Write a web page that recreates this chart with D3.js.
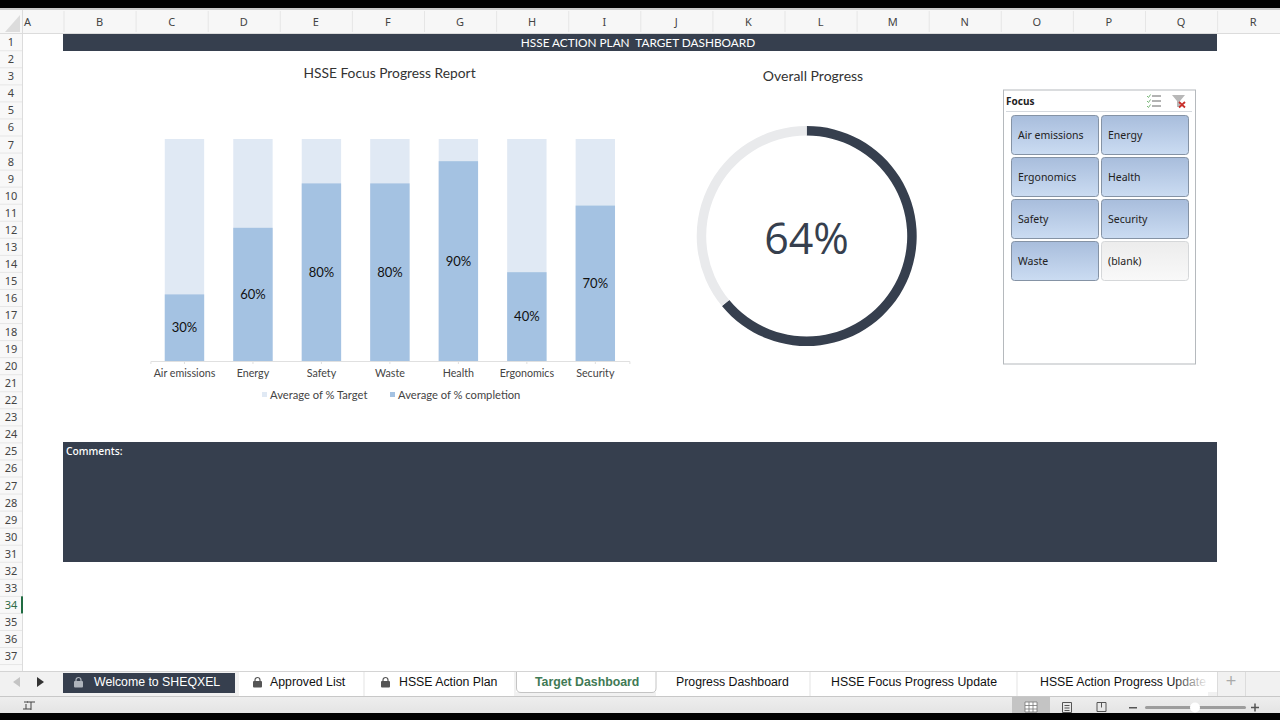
<!DOCTYPE html>
<html><head><meta charset="utf-8">
<script src="https://cdn.jsdelivr.net/npm/d3@7/dist/d3.min.js"></script>
<style>html,body{margin:0;padding:0;background:#000;overflow:hidden}svg{display:block}text{font-family:Lato,sans-serif}</style>
</head><body><svg id="c" width="1280" height="720"></svg>
<script>
const categories=["Air emissions","Energy","Safety","Waste","Health","Ergonomics","Security"];
const completion=[30,60,80,80,90,40,70];
const target=[100,100,100,100,100,100,100];
const seriesNames=["Average of % Target","Average of % completion"];
const overall=[64,36];
const slicerItems=["Air emissions","Energy","Ergonomics","Health","Safety","Security","Waste","(blank)"];
const columns="BCDEFGHIJKLMNOPQR".split("");
const rows=d3.range(1,38);
const tabs=["Welcome to SHEQXEL","Approved List","HSSE Action Plan","Target Dashboard","Progress Dashboard","HSSE Focus Progress Update","HSSE Action Progress Update"];
const tabEdges=[63,239,365,516,656,811,1018,1218];
const tabLocked=[1,1,1,0,0,0,0];

const DARK="#363f4e",PALE="#e0e9f4",BLUE="#a4c2e2",INK="#333";
const svg=d3.select("#c");
const defs=svg.append("defs");
function grad(id,a,b){const g=defs.append("linearGradient").attr("id",id).attr("x1",0).attr("x2",0).attr("y1",0).attr("y2",1);
 g.append("stop").attr("offset",0).attr("stop-color",a);g.append("stop").attr("offset",1).attr("stop-color",b);}
grad("sel","#a8bddc","#cbdcf2");grad("off","#ececec","#f9f9f9");grad("head","#eeeeee","#e4e4e4");
const clip=defs.append("clipPath").attr("id","tabclip");clip.append("rect").attr("x",0).attr("y",0).attr("width",1208).attr("height",720);
const fg=defs.append("linearGradient").attr("id","fade");fg.append("stop").attr("offset",0).attr("stop-color","#fff").attr("stop-opacity",0);fg.append("stop").attr("offset",.8).attr("stop-color","#fff");

// Window frame
svg.append("rect").attr("width",1280).attr("height",720).attr("fill","#000");
svg.append("rect").attr("y",8).attr("width",1280).attr("height",705).attr("fill","#fff");
svg.append("rect").attr("y",8).attr("width",1280).attr("height",2).attr("fill","#c9c9c9");

// Column header
svg.append("rect").attr("y",10).attr("width",1280).attr("height",23).attr("fill","#f7f7f7");
svg.append("rect").attr("y",33).attr("width",1280).attr("height",1).attr("fill","#dcdcdc");
svg.append("path").attr("d","M5 32L20 15V32Z").attr("fill","#dcdcdc");
const colX=d3.scaleBand().domain(columns).range([63.5,63.5+17*72.1]);
svg.append("text").attr("x",24).attr("y",26).attr("font-size",11).attr("fill","#444").style("font-family","'Noto Sans'").text("A");
svg.append("g").selectAll("text").data(columns).join("text").attr("x",d=>colX(d)+colX.bandwidth()/2).attr("y",26)
 .attr("text-anchor","middle").attr("font-size",11).attr("fill","#444").style("font-family","'Noto Sans'").text(d=>d);
svg.append("g").selectAll("rect").data(columns).join("rect").attr("x",d=>colX(d)).attr("y",11).attr("width",1).attr("height",21).attr("fill","#e6e6e6");

// Row header
svg.append("rect").attr("y",34).attr("width",22).attr("height",637).attr("fill","#f8f8f8");
svg.append("rect").attr("x",22).attr("y",10).attr("width",1).attr("height",661).attr("fill","#dcdcdc");
const rowY=d3.scaleBand().domain(rows).range([33.7,33.7+37*17.05]);
svg.append("g").selectAll("text").data(rows).join("text").attr("x",11).attr("y",d=>rowY(d)+rowY.bandwidth()/2+4)
 .attr("text-anchor","middle").attr("font-size",11).attr("fill",d=>d===34?"#2f6b46":"#444").style("font-family","'Noto Sans'").text(d=>d);
svg.append("g").selectAll("rect").data(rows).join("rect").attr("x",0).attr("y",d=>rowY(d)+rowY.bandwidth()-.5).attr("width",22).attr("height",1).attr("fill","#e6e6e6");
svg.append("rect").attr("x",21).attr("y",rowY(34)).attr("width",2).attr("height",rowY.bandwidth()).attr("fill","#1f6b41");

// Banner
svg.append("rect").attr("x",63).attr("y",34).attr("width",1154).attr("height",17).attr("fill",DARK);
svg.append("text").attr("x",638).attr("y",47).attr("text-anchor","middle").attr("font-size",11.8).attr("fill","#fff").style("white-space","pre").text("HSSE ACTION PLAN  TARGET DASHBOARD");

// Bar chart
svg.append("text").attr("x",389.5).attr("y",78).attr("text-anchor","middle").attr("font-size",13.8).attr("fill",INK).text("HSSE Focus Progress Report");
const x=d3.scaleBand().domain(categories).range([150.4,629.4]).paddingInner(.425).paddingOuter(.21);
const y=d3.scaleLinear().domain([0,100]).range([361,139]);
svg.append("g").selectAll("rect").data(categories).join("rect").attr("x",d=>x(d)).attr("width",x.bandwidth())
 .attr("y",(d,i)=>y(target[i])).attr("height",(d,i)=>y(0)-y(target[i])).attr("fill",PALE);
svg.append("g").selectAll("rect").data(categories).join("rect").attr("x",d=>x(d)).attr("width",x.bandwidth())
 .attr("y",(d,i)=>y(completion[i])).attr("height",(d,i)=>y(0)-y(completion[i])).attr("fill",BLUE);
svg.append("g").selectAll("text").data(categories).join("text").attr("x",d=>x(d)+x.bandwidth()/2)
 .attr("y",(d,i)=>y(completion[i]/2)+4.5).attr("text-anchor","middle").attr("font-size",13).attr("fill","#111").text((d,i)=>completion[i]+"%");
const axis=svg.append("g").attr("transform","translate(0,361)").call(d3.axisBottom(x).tickSize(3).tickPadding(5));
axis.select(".domain").attr("stroke","#e0e0e0");
axis.selectAll(".tick line").attr("stroke","#e0e0e0");
axis.selectAll(".tick text").attr("font-size",10.7).attr("fill","#444").style("font-family","Lato,sans-serif");
// Legend
const legendX=[262,390];
const lg=svg.append("g").selectAll("g").data(seriesNames).join("g").attr("transform",(d,i)=>`translate(${legendX[i]},392)`);
lg.append("rect").attr("width",5).attr("height",5).attr("fill",(d,i)=>i?BLUE:PALE);
lg.append("text").attr("x",8).attr("y",6.5).attr("font-size",11.2).attr("fill","#444").text(d=>d);

// Donut
svg.append("text").attr("x",813).attr("y",81).attr("text-anchor","middle").attr("font-size",14).attr("fill",INK).text("Overall Progress");
const pie=d3.pie().sort(null).value(d=>d);
const arc=d3.arc().innerRadius(100.5).outerRadius(110);
svg.append("g").attr("transform","translate(806.7,236)").selectAll("path").data(pie(overall)).join("path")
 .attr("d",arc).attr("fill",(d,i)=>i?"#e9eaec":DARK);
svg.append("text").attr("x",806.5).attr("y",254).attr("text-anchor","middle").attr("font-size",43).attr("fill",DARK).style("font-family","'Open Sans'").text(overall[0]+"%");

// Slicer
svg.append("rect").attr("x",1003.5).attr("y",90).attr("width",192).attr("height",274).attr("fill","#fff").attr("stroke","#b5b9bd");
svg.append("text").attr("x",1006).attr("y",104.5).attr("font-size",10).attr("font-weight",700).attr("fill","#222").style("font-family","'Noto Sans'").text("Focus");
svg.append("rect").attr("x",1006).attr("y",111).attr("width",186).attr("height",1).attr("fill","#d5d9de");
const ic=svg.append("g").attr("fill","none");
[96,101,106].forEach(v=>{ic.append("path").attr("d",`M1152 ${v}H1161`).attr("stroke","#666");ic.append("path").attr("d",`M1147 ${v}l1.5 1.5l2 -3`).attr("stroke","#7ab87a");});
svg.append("path").attr("d","M1172 95H1185L1180 101V107H1177V101Z").attr("fill","#b8b8b8");
svg.append("path").attr("d","M1179 102L1185 107.5M1185 102L1179 107.5").attr("stroke","#c9302c").attr("stroke-width",1.8);
const btn=svg.append("g").selectAll("g").data(slicerItems).join("g").attr("transform",(d,i)=>`translate(${1011+(i%2)*90},${115+Math.floor(i/2)*42})`);
btn.append("rect").attr("x",.5).attr("y",.5).attr("width",87).attr("height",39).attr("rx",3).attr("fill",d=>d==="(blank)"?"url(#off)":"url(#sel)").attr("stroke",d=>d==="(blank)"?"#d5d7d9":"#8593a5");
btn.append("text").attr("x",7).attr("y",24).attr("font-size",10.5).attr("fill","#222").style("font-family","'Noto Sans'").text(d=>d);

// Comments
svg.append("rect").attr("x",63).attr("y",442).attr("width",1154).attr("height",120).attr("fill",DARK);
svg.append("text").attr("x",66).attr("y",455).attr("font-size",10.3).attr("font-weight",500).attr("fill","#fff").style("font-family","'Noto Sans'").text("Comments:");

// Tab bar
svg.append("rect").attr("y",671).attr("width",1280).attr("height",26).attr("fill","#f1f1f1");
svg.append("rect").attr("y",671).attr("width",1280).attr("height",1).attr("fill","#d4d4d4");
svg.append("rect").attr("y",697).attr("width",1280).attr("height",16).attr("fill","url(#head)");
svg.append("rect").attr("y",696).attr("width",1280).attr("height",1).attr("fill","#c8c8c8");
svg.append("path").attr("d","M13 682l7 -5v10Z").attr("fill","#c4c4c4");
svg.append("path").attr("d","M37 677l7 5l-7 5Z").attr("fill","#333");
const tg=svg.append("g").attr("clip-path","url(#tabclip)").selectAll("g").data(tabs).join("g");
tg.append("rect").attr("x",(d,i)=>tabEdges[i]).attr("y",(d,i)=>i===0?673:672).attr("width",(d,i)=>tabEdges[i+1]-tabEdges[i]-(i===0?4:i===3?0:2)).attr("height",(d,i)=>i===0?20:i===3?20:24)
 .attr("fill",(d,i)=>i===0?DARK:"#fff");
svg.append("path").attr("d","M516.5 672V688Q516.5 692.5 521 692.5H652Q656 692.5 656 688V672").attr("fill","none").attr("stroke","#c4c4c4");
const locks=tg.filter((d,i)=>tabLocked[i]).append("g").attr("transform",(d,i)=>`translate(${[74,253,381][i]},677)`);
locks.append("rect").attr("x",0).attr("y",4).attr("width",9).attr("height",6.5).attr("rx",1).attr("fill",(d,i)=>i===0?"#aeb4bc":"#555");
locks.append("path").attr("d","M2 4.5V3a2.5 2.5 0 0 1 5 0V4.5").attr("fill","none").attr("stroke-width",1.2).attr("stroke",(d,i)=>i===0?"#aeb4bc":"#555");
const tabTextX=[94,270,399,535,676,831,1040];
tg.append("text").attr("x",(d,i)=>tabTextX[i]).attr("y",686).attr("font-size",12.3).attr("font-weight",(d,i)=>i===3?700:400)
 .attr("fill",(d,i)=>i===0?"#fff":i===3?"#3f7a55":"#111").style("font-family","'Liberation Sans'").text(d=>d);
svg.append("rect").attr("x",1172).attr("y",672).attr("width",46).attr("height",20).attr("fill","url(#fade)");
svg.append("rect").attr("x",1217).attr("y",672).attr("width",1).attr("height",24).attr("fill","#dcdcdc");
svg.append("rect").attr("x",1245).attr("y",672).attr("width",1).attr("height",24).attr("fill","#dcdcdc");
svg.append("text").attr("x",1231).attr("y",687).attr("text-anchor","middle").attr("font-size",18).attr("fill","#aaa").style("font-family","'Liberation Sans'").text("+");

// Status bar
svg.append("path").attr("d","M24 702h4M27 702h8M31 702v8M26 704v5M23 709h8").attr("fill","none").attr("stroke","#444");
svg.append("rect").attr("x",1012).attr("y",697).attr("width",38).attr("height",16).attr("fill","#c4c4c4");
svg.append("path").attr("d","M1025 702h12v10h-12ZM1025 705.5h12M1025 709h12M1029 702v10M1033 702v10").attr("fill","#fff").attr("stroke","#777").attr("stroke-width",.8);
svg.append("path").attr("d","M1062.5 702.5h9v10h-9ZM1064.5 705.5h5M1064.5 708h5M1064.5 710.5h5").attr("fill","none").attr("stroke","#555");
svg.append("path").attr("d","M1097 702.5h9v9h-9M1097 702.5v9M1101.5 702.5v5").attr("fill","none").attr("stroke","#555");
svg.append("rect").attr("x",1129).attr("y",707).attr("width",8).attr("height",1.5).attr("fill","#555");
svg.append("rect").attr("x",1145).attr("y",706).attr("width",101).attr("height",3).attr("rx",1.5).attr("fill","#9d9d9d");
svg.append("circle").attr("cx",1195).attr("cy",707.5).attr("r",5).attr("fill","#fff");
svg.append("path").attr("d","M1251 707.5h8M1255 703.5v8").attr("stroke","#555").attr("stroke-width",1.5);
</script></body></html>
